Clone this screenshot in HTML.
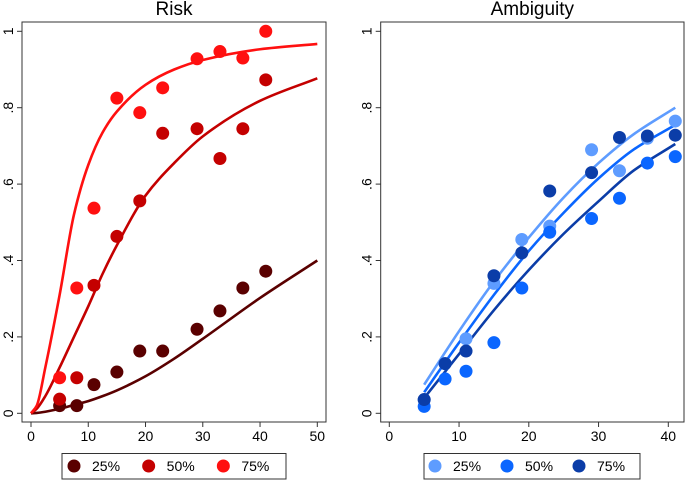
<!DOCTYPE html>
<html><head><meta charset="utf-8"><style>
body{margin:0;background:#fff;}
svg{display:block;font-family:"Liberation Sans",sans-serif;}
</style></head><body>
<svg id="c" width="685" height="480" viewBox="0 0 685 480"></svg>
<script>
const riskX=[5,8,11,15,19,23,29,33,37,41];
const risk25=[0.02,0.02,0.075,0.108,0.163,0.163,0.22,0.268,0.328,0.372];
const risk50=[0.037,0.093,0.335,0.463,0.556,0.733,0.745,0.667,0.745,0.873];
const risk75=[0.093,0.328,0.537,0.825,0.787,0.852,0.928,0.947,0.93,1.0];
const riskCurveX=[0,1,2.5,5,7.5,10,12.5,15,20,25,30,40,50];
const riskFit25=[0,0.001,0.004,0.012,0.022,0.032,0.045,0.06,0.097,0.143,0.195,0.302,0.4];
const riskFit50=[0,0.012,0.045,0.12,0.2,0.28,0.365,0.44,0.57,0.655,0.725,0.818,0.877];
const riskFit75=[0,0.02,0.12,0.31,0.52,0.65,0.735,0.79,0.86,0.9,0.925,0.953,0.967];
const ambX=[5,8,11,15,19,23,29,33,37,41];
const amb25=[0.035,0.13,0.195,0.34,0.455,0.49,0.69,0.635,0.72,0.765];
const amb50=[0.018,0.09,0.11,0.185,0.328,0.474,0.51,0.563,0.655,0.672];
const amb75=[0.036,0.13,0.163,0.36,0.42,0.582,0.63,0.722,0.726,0.728];
const ambCurveX=[5,10,15,20,25,30,35,41];
const ambFit25=[0.075,0.215,0.345,0.46,0.565,0.655,0.73,0.8];
const ambFit50=[0.055,0.185,0.31,0.425,0.525,0.615,0.69,0.755];
const ambFit75=[0.04,0.155,0.27,0.375,0.47,0.555,0.635,0.705];
const yTicks=[0,0.2,0.4,0.6,0.8,1];
const yTickLabels=["0",".2",".4",".6",".8","1"];
const riskXTicks=[0,10,20,30,40,50];
const ambXTicks=[0,10,20,30,40];
const legendLabels=["25%","50%","75%"];

const NS="http://www.w3.org/2000/svg";
const svg=document.getElementById('c');
function mk(tag,attrs,parent){const e=document.createElementNS(NS,tag);for(const k in attrs)e.setAttribute(k,attrs[k]);(parent||svg).appendChild(e);return e;}
function smooth(pts){
  const n=pts.length,dx=[],m=[],t=[];
  for(let i=0;i<n-1;i++){dx.push(pts[i+1][0]-pts[i][0]);m.push((pts[i+1][1]-pts[i][1])/dx[i]);}
  t[0]=m[0];t[n-1]=m[n-2];
  for(let i=1;i<n-1;i++){t[i]=(m[i-1]*m[i]<=0)?0:(3*(dx[i-1]+dx[i]))/((2*dx[i]+dx[i-1])/m[i-1]+(dx[i]+2*dx[i-1])/m[i]);}
  let d=`M${pts[0][0]},${pts[0][1]}`;
  for(let i=0;i<n-1;i++){const h=dx[i]/3;d+=` C${pts[i][0]+h},${pts[i][1]+t[i]*h} ${pts[i+1][0]-h},${pts[i+1][1]-t[i+1]*h} ${pts[i+1][0]},${pts[i+1][1]}`;}
  return d;
}

function panel(cfg){
  const g=mk('g',{});
  
  
  const sx=v=>cfg.x0+(v-cfg.xmin)*(cfg.x1-cfg.x0)/(cfg.xmax-cfg.xmin);
  const sy=v=>413.3-v*382;
  const t=mk('text',{x:(cfg.bx0+cfg.bx1)/2,y:15,'text-anchor':'middle','font-size':19},g);t.textContent=cfg.title;
  
  const box=mk('rect',{x:cfg.bx0,y:22,width:cfg.bx1-cfg.bx0,height:400,fill:'none',stroke:'#333','stroke-width':1},g);
  
  yTicks.forEach((v,i)=>{
    mk('line',{x1:cfg.bx0-5,x2:cfg.bx0,y1:sy(v),y2:sy(v),stroke:'#333'},g);
    const l=mk('text',{x:0,y:0,transform:`translate(${cfg.bx0-9},${sy(v)}) rotate(-90)`,'text-anchor':'middle','font-size':14},g);
    l.textContent=yTickLabels[i];
    
  });
  cfg.xTicks.forEach(v=>{
    mk('line',{x1:sx(v),x2:sx(v),y1:422,y2:427,stroke:'#333'},g);
    const l=mk('text',{x:sx(v),y:441,'text-anchor':'middle','font-size':14},g);
    l.textContent=v;
    
  });
  cfg.series.forEach((s,si)=>{
    const p=mk('path',{d:smooth(cfg.cx.map((x,i)=>[sx(x),sy(s.fit[i])])),fill:'none',stroke:s.color,'stroke-width':2.6},g);
    
  });
  cfg.series.forEach((s,si)=>{
    cfg.px.forEach((x,i)=>{
      const c=mk('circle',{cx:sx(x),cy:sy(s.pts[i]),r:6.5,fill:s.color},g);
      
      
    });
  });
  const lg=mk('g',{},g);
  
  mk('rect',{x:cfg.lx0,y:453.5,width:cfg.lx1-cfg.lx0,height:25.5,fill:'#fff',stroke:'#333'},lg);
  const step=(cfg.lx1-cfg.lx0)/3;
  cfg.series.forEach((s,si)=>{
    const bx=cfg.lx0+step*si;
    const c=mk('circle',{cx:bx+cfg.lpad,cy:466,r:6.5,fill:s.color},lg);
    
    const tx=mk('text',{x:bx+cfg.lpad+18,y:471,'font-size':14},lg);tx.textContent=legendLabels[si];
    
  });
}
panel({name:'risk',title:'Risk',bx0:22,bx1:326,x0:31,x1:317.3,xmin:0,xmax:50,xTicks:riskXTicks,
  px:riskX,cx:riskCurveX,lx0:62,lx1:286,lpad:12,
  series:[{color:'#5a0000',pts:risk25,fit:riskFit25},{color:'#c40000',pts:risk50,fit:riskFit50},{color:'#ff1010',pts:risk75,fit:riskFit75}]});
panel({name:'ambiguity',title:'Ambiguity',bx0:380.7,bx1:684,x0:389.3,x1:668.3,xmin:0,xmax:40,xTicks:ambXTicks,
  px:ambX,cx:ambCurveX,lx0:424,lx1:640,lpad:11,
  series:[{color:'#5e9cff',pts:amb25,fit:ambFit25},{color:'#0a66ff',pts:amb50,fit:ambFit50},{color:'#0b3da8',pts:amb75,fit:ambFit75}]});
</script>
</body></html>
